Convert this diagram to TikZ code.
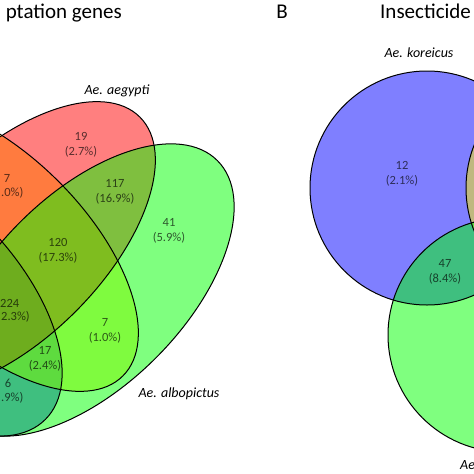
\documentclass[tikz,border=0pt]{standalone}
\usepackage{fontspec}
\setmainfont{Carlito}
\begin{document}
\begin{tikzpicture}[x=1pt,y=-1pt]
\tikzstyle{set}=[fill opacity=0.5]
\tikzstyle{rim}=[draw=black, line width=1pt]
\tikzstyle{count}=[align=center, font=\fontsize{12.5}{15}\selectfont, text=black, text opacity=0.65, inner sep=0pt]
\tikzstyle{species}=[font=\fontsize{14}{16}\selectfont\itshape, inner sep=0pt]
\tikzstyle{title}=[font=\fontsize{21}{24}\selectfont, inner sep=0pt]

\useasboundingbox (0,0) rectangle (474,474);
\clip (0,0) rectangle (474,474);

% A: four ellipses
\fill[set, blue, rotate around={-45:(-84,290)}] (-84,290) ellipse [x radius=183, y radius=96];
\fill[set, yellow, rotate around={-45:(-6.5,246.5)}] (-6.5,246.5) ellipse [x radius=183, y radius=92];
\fill[set, red, rotate around={45:(10.5,246.5)}] (10.5,246.5) ellipse [x radius=183, y radius=92];
\fill[set, green, rotate around={45:(88,290)}] (88,290) ellipse [x radius=183, y radius=96];
\draw[rim, rotate around={-45:(-84,290)}] (-84,290) ellipse [x radius=183, y radius=96];
\draw[rim, rotate around={-45:(-6.5,246.5)}] (-6.5,246.5) ellipse [x radius=183, y radius=92];
\draw[rim, rotate around={45:(10.5,246.5)}] (10.5,246.5) ellipse [x radius=183, y radius=92];
\draw[rim, rotate around={45:(88,290)}] (88,290) ellipse [x radius=183, y radius=96];

% B: three circles
\fill[set, blue] (427,188) circle [radius=117];
\fill[set, yellow] (583,188) circle [radius=117];
\fill[set, green] (505,335) circle [radius=117];
\draw[rim] (427,188) circle [radius=117];
\draw[rim] (583,188) circle [radius=117];
\draw[rim] (505,335) circle [radius=117];

\node[title, anchor=base east] (TA) at (122,18) {ptation genes};
\node[title, anchor=base] (TB) at (282,18) {B};
\node[title, anchor=base west] (TC) at (380,18) {Insecticide};

\node[species] (AEG) at (117,91) {Ae. aegypti};
\node[species] (ALB) at (179,394) {Ae. albopictus};
\node[species] (KOR) at (419,53) {Ae. koreicus};
\node[species, anchor=west] (AE) at (460,465) {Ae};

\node[count] (N19) at (81,145) {19\\(2.7\%)};
\node[count] (N117) at (115,192) {117\\(16.9\%)};
\node[count] (N7a) at (7,178) {7};
\node[count, anchor=west] (P7a) at (1,193) {.0\%)};
\node[count] (N120) at (58,251) {120\\(17.3\%)};
\node[count, anchor=west] (N224) at (0,303) {224};
\node[count, anchor=west] (P224) at (1,317) {2.3\%)};
\node[count] (N17) at (45,359) {17\\(2.4\%)};
\node[count] (N6) at (8,383) {6};
\node[count, anchor=west] (P6) at (1,398) {.9\%)};
\node[count] (N7b) at (105,331) {7\\(1.0\%)};
\node[count] (N41) at (169,231) {41\\(5.9\%)};
\node[count] (N12) at (402,174) {12\\(2.1\%)};
\node[count] (N47) at (445,272) {47\\(8.4\%)};
\end{tikzpicture}
\end{document}
